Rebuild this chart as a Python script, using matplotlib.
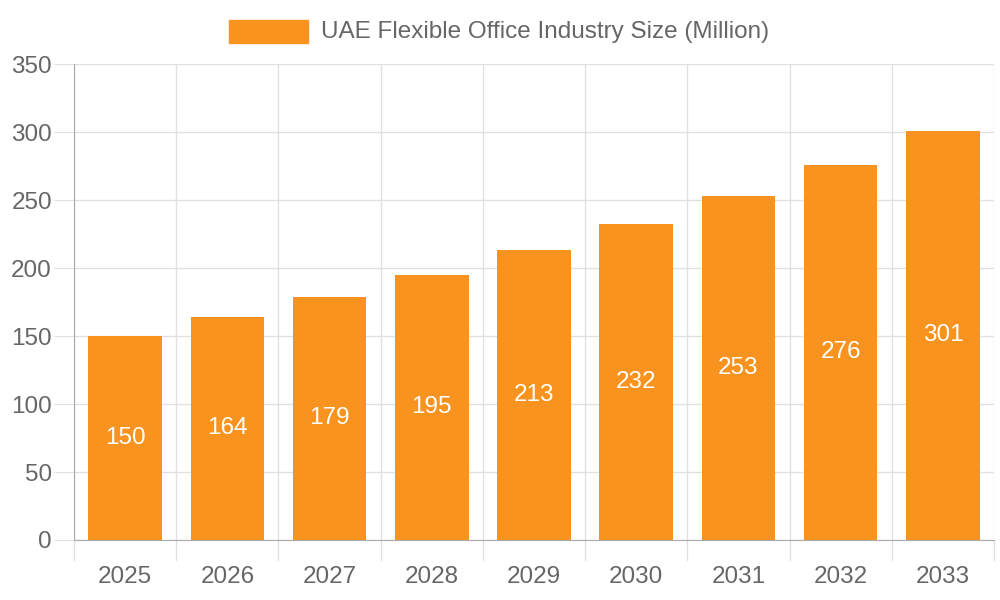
import matplotlib
matplotlib.use("Agg")
import matplotlib.pyplot as plt
from matplotlib.patches import Rectangle
from matplotlib.lines import Line2D

years = ["2025", "2026", "2027", "2028", "2029", "2030", "2031", "2032", "2033"]
values = [150, 164, 179, 195, 213, 232, 253, 276, 301]
series_label = "UAE Flexible Office Industry Size (Million)"
y_ticks = [0, 50, 100, 150, 200, 250, 300, 350]

plt.rcParams['font.family'] = ['Liberation Sans', 'DejaVu Sans']
bar_color = "#F7931E"
text_color = "#666666"
grid_color = "#e1e1e1"
axis_color = "#aaaaaa"
fs = 17.5

fig = plt.figure(figsize=(10, 6), dpi=100)
ax = fig.add_axes([0.074, 0.1, 0.92, 0.7933])

x = list(range(len(years)))
ax.bar(x, values, width=0.72, color=bar_color, zorder=3)
for xi, v in zip(x, values):
    ax.text(xi, v / 2, str(v), ha="center", va="center", color="white",
            fontsize=fs, zorder=4)

ax.set_xlim(-0.5, len(years) - 0.5)
ax.set_ylim(0, 350)
ax.set_yticks(y_ticks)
ax.set_yticklabels([str(t) for t in y_ticks])
ax.set_xticks(x)
ax.set_xticklabels(years)

for t in y_ticks:
    ax.axhline(t, color=grid_color, lw=1, zorder=1)
for b in range(len(years) + 1):
    ax.axvline(b - 0.5, color=grid_color, lw=1, zorder=1)

ax.tick_params(axis='y', length=14.4, width=0.8, color=grid_color,
               labelcolor=text_color, labelsize=fs, pad=1.5)
ax.tick_params(axis='x', length=0, labelcolor=text_color, labelsize=fs, pad=19)

trans = ax.get_xaxis_transform()
h_px = 476
for b in range(len(years) + 1):
    ax.add_line(Line2D([b - 0.5, b - 0.5], [0, -20 / h_px], transform=trans,
                       color=grid_color, lw=1, clip_on=False, zorder=1))

for side in ["top", "right"]:
    ax.spines[side].set_visible(False)
ax.spines["left"].set_color(axis_color)
ax.spines["bottom"].set_color(axis_color)
ax.spines["left"].set_zorder(5)
ax.spines["bottom"].set_zorder(5)

fig.patches.append(Rectangle((229 / 1000, 1 - 43 / 600), 79 / 1000, 23 / 600,
                             transform=fig.transFigure, color=bar_color))
fig.text(321 / 1000, 1 - 32 / 600, series_label, ha="left", va="center",
         color=text_color, fontsize=fs)

fig.savefig("out.png", dpi=100)
